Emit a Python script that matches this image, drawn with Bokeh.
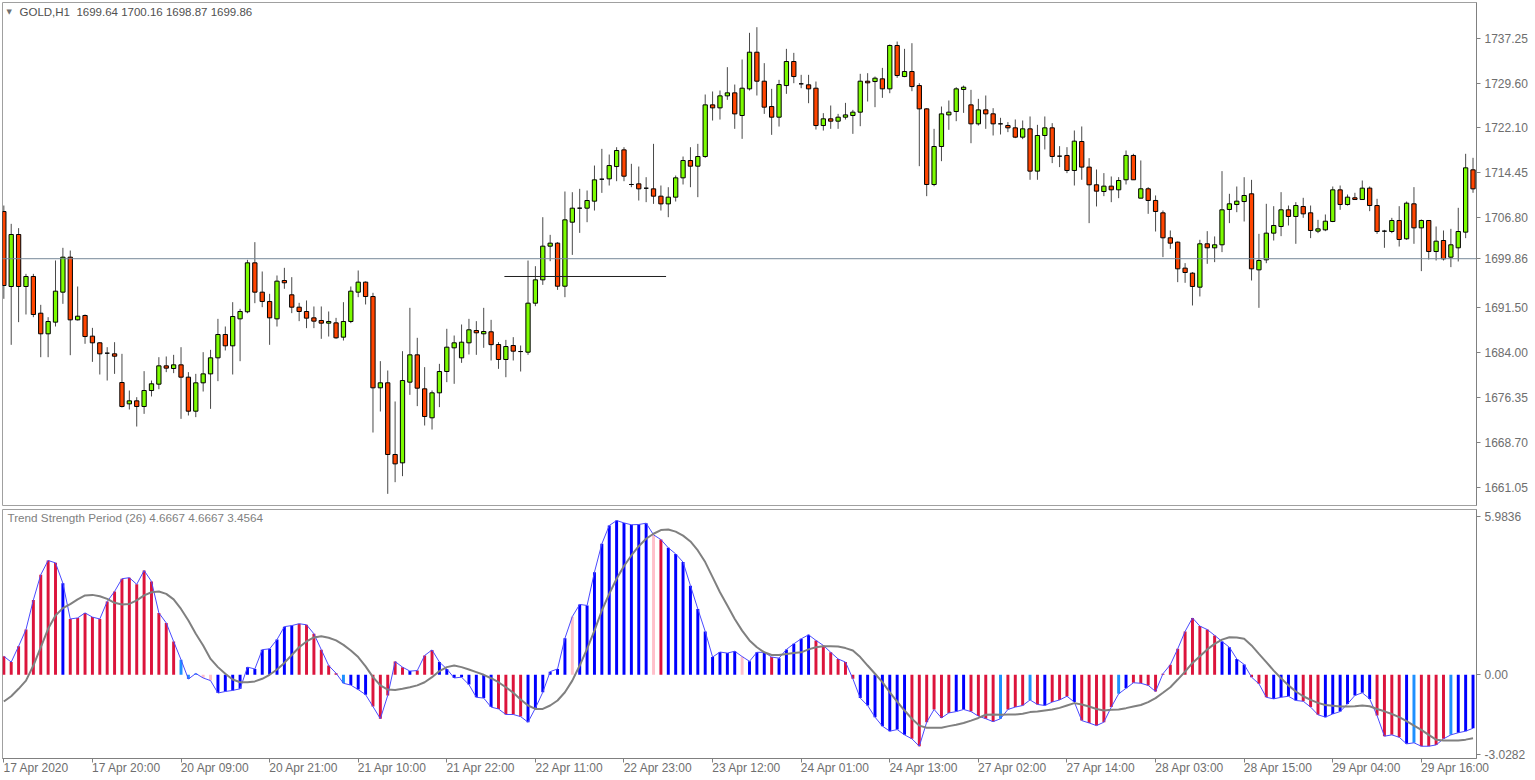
from bokeh.plotting import figure
from bokeh.models import Range1d, FixedTicker, Label, Span, PrintfTickFormatter, LinearAxis
from bokeh.layouts import column
from bokeh.embed import file_html
from bokeh.resources import INLINE

# ---------------- data ----------------
opens = [1707.87,1695.14,1703.97,1695.14,1696.84,1690.61,1687.11,1689.09,1694.18,1700.12,
         1689.48,1690.22,1686.71,1685.58,1683.82,1683.71,1678.84,1675.22,1675.73,1674.77,
         1677.48,1678.56,1681.67,1681.22,1681.84,1679.75,1673.97,1678.79,1680.31,1683.03,
         1686.99,1685.07,1689.65,1690.85,1699.16,1694.18,1692.60,1689.65,1696.16,1693.73,
         1691.63,1690.90,1689.82,1689.37,1688.92,1688.97,1686.54,1689.20,1694.18,1695.88,
         1693.44,1677.94,1678.79,1666.62,1665.20,1678.90,1683.54,1677.77,1672.85,1677.09,
         1680.71,1684.73,1683.03,1685.58,1687.67,1687.11,1687.45,1685.29,1682.75,1685.12,
         1684.10,1683.99,1692.31,1696.27,1701.99,1702.50,1695.19,1706.06,1708.44,1708.44,
         1709.63,1713.36,1713.42,1715.51,1718.34,1712.46,1712.57,1711.83,1711.72,1710.48,
         1709.17,1710.31,1713.59,1716.53,1715.57,1717.21,1725.98,1725.47,1727.51,1728.02,
         1724.17,1728.70,1734.92,1730.00,1725.70,1723.89,1729.26,1733.34,1729.55,1729.38,
         1728.81,1722.47,1723.61,1723.21,1723.89,1724.17,1724.74,1730.00,1729.94,1730.40,
         1728.70,1736.06,1730.79,1731.64,1729.26,1725.30,1712.46,1718.91,1724.28,1724.85,
         1728.59,1725.98,1722.76,1725.13,1724.46,1722.76,1722.48,1722.08,1720.50,1721.91,
         1714.73,1720.78,1722.08,1717.27,1717.39,1714.84,1719.76,1715.41,1712.41,1711.27,
         1712.18,1711.56,1713.26,1717.39,1710.14,1711.73,1709.75,1707.65,1703.41,1702.67,
         1698.26,1697.41,1695.03,1702.39,1701.71,1702.22,1708.22,1709.06,1709.57,1710.88,
         1697.97,1699.67,1704.20,1705.33,1708.16,1707.03,1708.72,1707.65,1704.54,1704.76,
         1706.18,1711.55,1709.06,1710.20,1709.91,1711.84,1708.89,1704.54,1704.48,1706.35,
         1703.24,1709.18,1705.10,1706.35,1701.08,1702.95,1700.12,1701.71,1704.37,1714.95]
highs = [1708.89,1705.78,1705.05,1697.29,1697.29,1692.03,1689.93,1699.56,1701.71,1701.25,
         1695.14,1690.39,1688.12,1685.69,1684.84,1685.69,1683.71,1677.48,1676.35,1680.77,
         1679.18,1683.14,1683.26,1683.54,1684.84,1680.60,1680.31,1683.99,1684.39,1689.65,
         1688.35,1692.48,1691.35,1699.67,1702.67,1697.69,1693.90,1697.01,1698.31,1696.73,
         1692.37,1692.77,1691.75,1691.75,1690.90,1689.82,1692.48,1695.14,1697.86,1696.00,
         1694.07,1682.47,1680.88,1675.62,1684.16,1691.52,1686.43,1681.45,1677.49,1682.01,
         1687.96,1686.82,1688.69,1689.65,1689.26,1691.52,1689.48,1685.69,1686.08,1686.54,
         1685.12,1699.55,1698.59,1706.91,1703.91,1702.67,1711.27,1711.15,1711.72,1711.44,
         1715.68,1718.51,1717.55,1718.79,1718.79,1715.97,1715.51,1713.70,1719.36,1712.29,
         1712.00,1713.98,1717.21,1718.79,1719.36,1727.74,1728.25,1728.42,1732.38,1729.43,
         1733.68,1738.21,1739.17,1733.06,1728.70,1730.23,1735.49,1734.81,1731.08,1731.08,
         1729.94,1724.57,1725.87,1724.45,1726.32,1725.13,1731.25,1731.36,1730.79,1732.26,
         1736.23,1736.73,1735.49,1736.45,1729.66,1725.42,1721.91,1725.70,1726.72,1728.98,
         1729.26,1728.53,1727.00,1727.57,1725.42,1723.78,1723.05,1723.50,1723.33,1724.01,
         1722.59,1724.01,1722.88,1718.97,1718.80,1721.63,1722.31,1716.93,1715.01,1714.39,
         1713.82,1713.71,1718.24,1717.67,1716.54,1712.01,1710.60,1708.05,1704.65,1702.79,
         1699.11,1697.58,1703.07,1704.54,1703.64,1714.73,1710.88,1712.12,1713.70,1713.25,
         1704.08,1709.18,1708.78,1711.16,1708.89,1709.46,1710.20,1708.89,1706.46,1707.37,
         1712.12,1712.29,1710.76,1711.05,1713.14,1712.12,1710.03,1704.76,1706.80,1708.78,
         1709.57,1712.01,1706.52,1706.35,1705.33,1704.65,1704.93,1708.50,1717.67,1716.99]
lows = [1693.05,1685.24,1689.09,1690.39,1689.93,1683.14,1683.14,1688.35,1692.20,1683.48,
        1689.37,1685.41,1682.35,1680.20,1679.18,1680.31,1674.60,1674.26,1671.37,1673.52,
        1676.47,1677.71,1680.60,1680.43,1672.67,1673.24,1672.96,1677.31,1674.37,1679.07,
        1684.28,1680.20,1682.46,1690.60,1692.31,1691.63,1685.24,1688.35,1694.75,1690.62,
        1689.26,1688.07,1688.07,1686.26,1686.65,1686.26,1685.97,1688.92,1693.33,1692.09,
        1670.35,1673.92,1659.94,1661.92,1662.94,1676.75,1674.83,1671.54,1670.86,1674.66,
        1678.90,1678.62,1682.18,1683.60,1683.54,1684.73,1682.58,1681.16,1679.74,1682.58,
        1680.71,1683.54,1691.80,1695.42,1699.44,1694.57,1693.33,1700.51,1704.25,1706.06,
        1708.04,1711.04,1712.29,1713.02,1713.02,1712.00,1709.74,1709.46,1709.17,1708.04,
        1706.91,1709.57,1712.46,1712.00,1710.31,1716.98,1723.32,1723.49,1726.83,1721.91,
        1720.21,1728.42,1727.57,1724.45,1720.89,1722.30,1727.85,1729.66,1728.81,1726.26,
        1721.79,1721.62,1721.91,1721.91,1723.49,1721.06,1722.36,1726.55,1725.59,1727.17,
        1727.96,1730.57,1730.68,1728.30,1715.57,1710.48,1712.17,1716.42,1721.74,1723.21,
        1724.62,1719.47,1722.47,1721.91,1720.78,1720.95,1721.35,1720.33,1720.16,1713.26,
        1713.26,1718.41,1716.09,1715.41,1714.39,1712.29,1713.26,1705.90,1708.73,1710.48,
        1709.46,1710.14,1712.46,1713.26,1710.14,1707.48,1704.48,1700.13,1701.54,1695.88,
        1695.77,1691.92,1693.45,1698.99,1699.28,1700.98,1705.90,1707.76,1706.18,1696.16,
        1691.52,1699.10,1702.95,1703.69,1705.50,1702.39,1706.80,1703.35,1704.20,1704.54,
        1706.07,1708.16,1708.89,1709.86,1709.86,1707.93,1704.08,1701.71,1704.20,1701.93,
        1703.07,1702.39,1697.75,1699.73,1699.56,1699.56,1698.43,1699.39,1703.35,1711.05]
closes = [1695.31,1703.97,1695.14,1696.84,1690.39,1687.11,1689.20,1694.35,1700.12,1689.48,
          1690.10,1686.65,1685.58,1683.71,1683.82,1683.31,1674.77,1675.73,1674.77,1677.48,
          1678.62,1681.67,1681.28,1681.84,1679.75,1673.97,1678.79,1680.31,1683.03,1686.99,
          1685.07,1690.05,1690.90,1699.16,1694.18,1692.60,1689.82,1696.05,1695.77,1691.63,
          1690.90,1689.77,1689.26,1688.92,1689.20,1686.43,1689.20,1694.35,1695.88,1693.44,
          1677.94,1678.79,1666.62,1665.03,1679.18,1683.54,1677.88,1673.07,1677.09,1680.71,
          1684.84,1685.58,1685.69,1687.79,1687.28,1687.50,1685.27,1682.75,1684.95,1684.16,
          1684.10,1692.31,1696.27,1701.99,1702.50,1695.19,1706.46,1708.44,1708.44,1709.74,
          1713.25,1713.36,1715.68,1718.23,1713.87,1712.46,1711.72,1711.83,1710.48,1709.17,
          1710.31,1713.59,1716.53,1715.57,1717.21,1725.98,1725.47,1727.51,1728.02,1724.45,
          1728.81,1734.92,1730.00,1725.59,1723.89,1729.43,1733.34,1730.79,1729.55,1728.70,
          1722.47,1723.61,1723.21,1723.89,1724.28,1724.74,1730.00,1729.72,1730.51,1728.70,
          1736.06,1730.96,1731.64,1729.09,1725.30,1712.46,1718.91,1724.45,1724.74,1728.70,
          1728.98,1722.76,1725.13,1724.45,1722.76,1722.76,1722.08,1720.50,1721.91,1714.73,
          1720.78,1722.08,1717.22,1717.27,1714.84,1719.82,1715.41,1712.41,1711.33,1712.18,
          1711.56,1713.14,1717.39,1713.26,1711.73,1709.75,1707.88,1703.41,1702.50,1698.14,
          1697.52,1695.15,1702.39,1701.71,1702.22,1708.16,1709.18,1709.63,1710.59,1698.14,
          1699.56,1704.20,1705.50,1708.16,1707.03,1708.89,1707.48,1704.65,1704.93,1706.23,
          1711.55,1709.06,1710.31,1709.91,1711.84,1708.89,1704.48,1704.54,1706.35,1703.12,
          1709.29,1705.10,1706.35,1701.08,1702.84,1699.84,1702.22,1704.48,1715.29,1711.72]

# Trend Strength histogram values and colour codes (R red, B blue, L light blue, P pink)
trend_values = [0.70,0.48,1.08,1.71,2.83,3.78,4.32,4.23,3.46,2.11,
                2.15,2.34,2.18,2.11,2.77,3.15,3.63,3.67,3.42,3.94,
                3.53,2.34,1.96,1.26,0.57,-0.16,0.05,-0.12,-0.22,-0.69,
                -0.63,-0.59,-0.53,0.29,0.22,0.95,0.98,1.33,1.82,1.86,
                1.93,1.89,1.55,0.95,0.35,0.06,-0.32,-0.39,-0.56,-0.75,
                -1.20,-1.66,-0.78,0.50,0.29,0.14,0.16,0.73,0.94,0.48,
                0.22,-0.12,-0.09,-0.37,-0.85,-0.88,-1.22,-1.29,-1.50,-1.50,
                -1.58,-1.79,-1.26,-0.66,0.12,0.22,1.38,2.20,2.66,2.62,
                3.88,4.95,5.64,5.83,5.74,5.67,5.68,5.73,5.29,5.11,
                4.80,4.57,4.26,3.37,2.49,1.64,0.67,0.86,0.82,0.89,
                0.69,0.51,0.85,0.85,0.67,0.63,0.96,1.17,1.36,1.51,
                1.30,1.11,0.85,0.60,0.48,-0.15,-0.88,-1.16,-1.60,-1.94,
                -2.13,-2.07,-2.27,-2.42,-2.70,-1.79,-1.31,-1.63,-1.44,-1.39,
                -1.31,-1.39,-1.56,-1.66,-1.77,-1.66,-1.31,-1.22,-1.16,-0.95,
                -1.12,-1.16,-1.03,-0.95,-0.81,-1.03,-1.73,-1.82,-1.92,-1.79,
                -1.22,-0.72,-0.51,-0.30,-0.32,-0.40,-0.63,0.04,0.38,0.98,
                1.64,2.15,1.84,1.71,1.49,1.26,1.04,0.60,0.39,-0.09,
                -0.34,-0.85,-0.91,-0.85,-0.81,-0.97,-1.00,-1.22,-1.51,-1.60,
                -1.48,-1.39,-1.10,-0.78,-0.68,-0.91,-1.54,-2.32,-2.27,-2.36,
                -2.61,-2.57,-2.70,-2.70,-2.65,-2.42,-2.27,-2.19,-2.13,-2.02]
trend_codes = list("RRRRRRRRBR" "RRRRRRRRRR" "RRRRLLLPPB" "BBBBBBBBBB"
                   "RRRRRRLBBB" "RRRRRBRRRB" "BBBBBBBRRR" "RBBBBBBPBB"
                   "BBBBBBBBPR" "BBBBBBBBBB" "PBBBRBBBBB" "RRRRRRBBBB"
                   "BBBRRRRRRB" "BRRRRLRRRL" "RBRRRBRRRR" "RLBRRRRRRR"
                   "RRRRRBBBBR" "RRBBBBRRRB" "BBBBBBRRRR" "BLRRRRLBBB")
signal_values = [-1.01,-0.81,-0.53,-0.22,0.35,1.04,1.74,2.24,2.52,2.67,
                 2.85,3.00,3.02,2.97,2.87,2.72,2.66,2.68,2.81,3.00,
                 3.12,3.15,3.06,2.85,2.49,2.05,1.55,1.11,0.60,0.29,
                 0.04,-0.18,-0.28,-0.28,-0.25,-0.15,0.00,0.20,0.45,0.75,
                 1.04,1.26,1.41,1.46,1.40,1.30,1.13,0.92,0.67,0.32,
                 -0.09,-0.40,-0.56,-0.57,-0.53,-0.47,-0.40,-0.28,-0.09,0.14,
                 0.29,0.35,0.29,0.20,0.10,0.00,-0.13,-0.28,-0.47,-0.68,
                 -0.93,-1.16,-1.29,-1.29,-1.16,-0.97,-0.66,-0.22,0.35,0.98,
                 1.67,2.43,3.06,3.63,4.11,4.51,4.86,5.14,5.33,5.47,
                 5.49,5.41,5.26,5.04,4.70,4.26,3.69,3.12,2.62,2.11,
                 1.67,1.30,1.04,0.85,0.75,0.75,0.79,0.82,0.85,0.96,
                 1.04,1.08,1.08,1.07,1.01,0.92,0.67,0.35,0.04,-0.28,
                 -0.66,-1.01,-1.35,-1.66,-1.92,-2.00,-2.00,-2.00,-1.94,-1.89,
                 -1.82,-1.73,-1.63,-1.51,-1.50,-1.51,-1.50,-1.50,-1.47,-1.41,
                 -1.39,-1.35,-1.31,-1.25,-1.16,-1.07,-1.12,-1.20,-1.29,-1.35,
                 -1.32,-1.31,-1.26,-1.20,-1.14,-1.03,-0.88,-0.68,-0.47,-0.18,
                 0.12,0.45,0.70,0.96,1.17,1.33,1.42,1.41,1.36,1.11,
                 0.79,0.48,0.16,-0.13,-0.40,-0.63,-0.81,-0.95,-1.06,-1.14,
                 -1.17,-1.20,-1.20,-1.19,-1.16,-1.19,-1.29,-1.38,-1.48,-1.60,
                 -1.75,-1.92,-2.08,-2.27,-2.45,-2.48,-2.48,-2.48,-2.45,-2.40]

time_label_bars = [0, 12, 24, 36, 48, 60, 72, 84, 96, 108, 120, 132, 144, 156, 168, 180, 192]
time_labels = ["17 Apr 2020", "17 Apr 20:00", "20 Apr 09:00", "20 Apr 21:00", "21 Apr 10:00",
               "21 Apr 22:00", "22 Apr 11:00", "22 Apr 23:00", "23 Apr 12:00", "24 Apr 01:00",
               "24 Apr 13:00", "27 Apr 02:00", "27 Apr 14:00", "28 Apr 03:00", "28 Apr 15:00",
               "29 Apr 04:00", "29 Apr 16:00"]
price_ticks = [1661.05, 1668.70, 1676.35, 1684.00, 1691.50, 1699.86, 1706.80, 1714.45,
               1722.10, 1729.60, 1737.25]
indicator_ticks = [-3.0282, 0.0, 5.9836]
current_price = 1699.86
trendline_bars = [67.8, 89.7]
trendline_price = 1696.84
header_text = "GOLD,H1\u00a0\u00a01699.64 1700.16 1698.87 1699.86"
indicator_text = "Trend Strength Period (26) 4.6667 4.6667 3.4564"

# ---------------- styling ----------------
FONT = "Liberation Sans"
AXIS_COLOR = "#6e6e6e"
FRAME_COLOR = "#a0a0a0"
AXIS_FONT_SIZE = "12px"
code_colors = {"R": "#DC143C", "B": "#0000FF", "L": "#1E90FF", "P": "#FFC0CB"}
BAR_PX = 7.383   # pixels per bar, used to start each time label at its tick

n = len(opens)
bars = list(range(n))
x_range = Range1d(-0.18, 199.47)


def style_axis(a):
    a.major_label_text_font = FONT
    a.major_label_text_font_size = AXIS_FONT_SIZE
    a.major_label_text_color = AXIS_COLOR
    a.axis_line_color = "#808080"
    a.major_tick_line_color = "#808080"
    a.major_tick_out = 4
    a.major_tick_in = 0
    a.minor_tick_out = 0
    a.minor_tick_in = 0
    a.major_label_standoff = 4


# ---------------- price panel ----------------
p1 = figure(frame_width=1474, frame_height=503, x_range=x_range,
            y_range=Range1d(1657.96, 1743.36), x_axis_location=None,
            y_axis_location="right", output_backend="svg", toolbar_location=None,
            min_border_left=2, min_border_top=2, min_border_bottom=2, min_border_right=2)
p1.grid.visible = False
p1.outline_line_color = FRAME_COLOR
p1.background_fill_color = "white"
p1.border_fill_color = "white"

ax = p1.yaxis[0]
ax.ticker = FixedTicker(ticks=price_ticks)
ax.formatter = PrintfTickFormatter(format="%.2f")
style_axis(ax)

p1.add_layout(Span(location=current_price, dimension="width", line_color="#778899", line_width=1))

body_top = [max(o, c) for o, c in zip(opens, closes)]
body_bot = [min(o, c) for o, c in zip(opens, closes)]
body_col = ["#7CFC00" if c >= o else "#FF4500" for o, c in zip(opens, closes)]

p1.segment(x0=bars, y0=highs, x1=bars, y1=lows, line_color="#4a4a4a", line_width=1)
p1.vbar(x=bars, top=body_top, bottom=body_bot, width=0.58, fill_color=body_col,
        line_color="black", line_width=1)
p1.segment(x0=[trendline_bars[0]], x1=[trendline_bars[1]], y0=[trendline_price],
           y1=[trendline_price], line_color="#202020", line_width=1)

p1.add_layout(Label(x=4, y=494, x_units="screen", y_units="screen", text="\u25bc",
                    text_font="DejaVu Sans", text_font_size="7px", text_color="#707070",
                    text_baseline="middle"))
p1.add_layout(Label(x=17, y=494, x_units="screen", y_units="screen", text=header_text,
                    text_font=FONT, text_font_size="11.5px", text_color="#505050",
                    text_baseline="middle"))

# ---------------- indicator panel ----------------
p2 = figure(frame_width=1474, frame_height=249, x_range=x_range,
            y_range=Range1d(-3.163, 6.247), y_axis_location="right",
            output_backend="svg", toolbar_location=None,
            min_border_left=2, min_border_top=2, min_border_bottom=2, min_border_right=2)
p2.grid.visible = False
p2.outline_line_color = FRAME_COLOR
p2.background_fill_color = "white"
p2.border_fill_color = "white"

ay = p2.yaxis[0]
ay.ticker = FixedTicker(ticks=indicator_ticks)
ay.major_label_overrides = {0: "0.00", -3.0282: "-3.0282", 5.9836: "5.9836"}
style_axis(ay)

# tick marks at the bars
axt = p2.xaxis[0]
style_axis(axt)
axt.ticker = FixedTicker(ticks=time_label_bars)
axt.major_label_overrides = {b: "" for b in time_label_bars}
axt.major_label_text_font_size = "1px"
axt.major_label_standoff = 0

# labels that start at their tick (MT4 style, left aligned)
label_w = [62.7 if t.endswith("2020") else 66.0 for t in time_labels]
label_pos = [b + (w / 2 + 1) / BAR_PX for b, w in zip(time_label_bars, label_w)]
axl = LinearAxis(ticker=FixedTicker(ticks=label_pos),
                 major_label_overrides={p: t for p, t in zip(label_pos, time_labels)})
style_axis(axl)
axl.axis_line_color = None
axl.major_tick_line_color = None
axl.major_tick_out = 0
axl.major_label_standoff = -2
p2.add_layout(axl, "below")

hist_colors = [code_colors[c] for c in trend_codes]
p2.vbar(x=bars, top=trend_values, bottom=0, width=0.4, fill_color=hist_colors,
        line_color=None)
p2.line(bars, trend_values, line_color="#4a4aff", line_width=1)
p2.line(bars, signal_values, line_color="#808080", line_width=2)

p2.add_layout(Label(x=5, y=241, x_units="screen", y_units="screen", text=indicator_text,
                    text_font=FONT, text_font_size="11.7px", text_color="#808080",
                    text_baseline="middle"))

layout = column(p1, p2, spacing=0)
open("out.html", "w").write(file_html(layout, INLINE))
